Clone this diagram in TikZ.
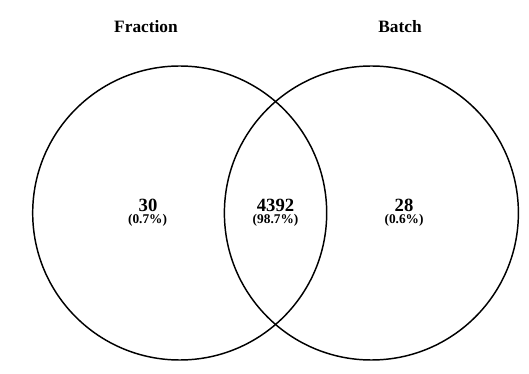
\documentclass[tikz,border=0pt]{standalone}
\usepackage{fontspec}
\setmainfont{Liberation Serif}
\begin{document}
\begin{tikzpicture}[x=0.75pt,y=-0.75pt,
  setcircle/.style={circle,draw,line width=1.1pt,minimum size=220.5pt,inner sep=0pt},
  title/.style={anchor=base,font=\fontsize{13}{15}\selectfont\bfseries},
  count/.style={anchor=base,inner sep=0pt,font=\fontsize{14}{16}\selectfont\bfseries},
  pct/.style={anchor=base,inner sep=0pt,font=\fontsize{10}{11}\selectfont\bfseries}]
\useasboundingbox (0,0) rectangle (529,374);
\node[setcircle] (A) at (179.7,213) {};
\node[setcircle] (B) at (371.4,213) {};
\node[title] (tA) at (146,32.3) {Fraction};
\node[title] (tB) at (400,32.3) {Batch};
\node[count] (nA) at (148,211.5) {30};
\node[pct] (pA) at (147.5,224) {(0.7\%)};
\node[count] (nAB) at (275.5,211.5) {4392};
\node[pct] (pAB) at (275.5,224) {(98.7\%)};
\node[count] (nB) at (404,211.5) {28};
\node[pct] (pB) at (404,224) {(0.6\%)};
\end{tikzpicture}
\end{document}
